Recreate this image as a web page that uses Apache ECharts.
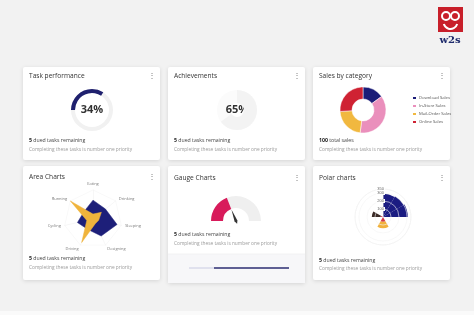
<!DOCTYPE html>
<html>
<head>
<meta charset="utf-8">
<script src="https://cdn.jsdelivr.net/npm/echarts@6/dist/echarts.min.js"></script>
<style>
  html, body { margin: 0; padding: 0; background: #f2f2f2; }
  #dash { width: 474px; height: 315px; }
</style>
</head>
<body>
<div id="dash"></div>
<script>
// ---- data ----
var taskPerformance = [34];
var achievements = [65];
var salesNames = ['Download Sales', 'In-Store Sales', 'Mail-Order Sales', 'Online Sales'];
var salesValues = [15, 37, 22, 26];
var salesColors = ['#1b1c78', '#ea8fbc', '#f1b83f', '#cf2233'];

var radarNames = ['Eating', 'Running', 'Cycling', 'Driving', 'Designing', 'Sleeping', 'Drinking'];
var radarNavy = [65, 40, 55, 40, 65, 85, 55];
var radarYellow = [17, 100, 22, 90, 18, 20, 37];

var gaugeValue = [38];
var progressDone = [25];

var polarCats = ['1', '2', '3', '4', '5', '6', '7', '8', '9', '10', '11', '12'];
var polarNavy = [290, 300, 310, 0, 0, 0, 0, 0, 0, 0, 0, 0];
var polarRed = [0, 0, 0, 0, 0, 60, 60, 0, 0, 30, 0, 0];
var polarYellow = [0, 0, 0, 0, 0, 80, 80, 0, 0, 0, 0, 0];
var polarDark = [0, 0, 0, 0, 0, 0, 0, 0, 0, 110, 0, 0];

// ---- cards ----
var cards = [
    { x: 23, y: 67, w: 137, h: 93, title: 'Task performance', lead: '5', rest: ' dued tasks remaining', ty: 76, l1: 141, l2: 150 },
    { x: 168, y: 67, w: 137, h: 93, title: 'Achievements', lead: '5', rest: ' dued tasks remaining', ty: 76, l1: 141, l2: 150 },
    { x: 313, y: 67, w: 137, h: 93, title: 'Sales by category', lead: '100', rest: ' total sales', ty: 76, l1: 141, l2: 150 },
    { x: 23, y: 166, w: 137, h: 114, title: 'Area Charts', lead: '5', rest: ' dued tasks remaining', ty: 177, l1: 259, l2: 268 },
    { x: 168, y: 166, w: 137, h: 117, title: 'Gauge Charts', lead: '5', rest: ' dued tasks remaining', ty: 178, l1: 235, l2: 244 },
    { x: 313, y: 166, w: 137, h: 114, title: 'Polar charts', lead: '5', rest: ' dued tasks remaining', ty: 178, l1: 261, l2: 269 }
];
var FONT = '"Open Sans", sans-serif';

var graphics = [];
graphics.push({ type: 'rect', shape: { x: 0, y: 311, width: 474, height: 4 }, style: { fill: '#fafafa' }, z: -10 });
cards.forEach(function (c) {
    graphics.push({
        type: 'rect', shape: { x: c.x, y: c.y, width: c.w, height: c.h, r: 2 },
        style: { fill: '#fff', shadowBlur: 4, shadowColor: 'rgba(0,0,0,0.12)', shadowOffsetY: 1 }, z: -5
    });
    graphics.push({ type: 'text', x: c.x + 6, y: c.ty, style: { text: c.title, fontSize: 6.6, fill: '#333', fontFamily: FONT, verticalAlign: 'middle' } });
    graphics.push({ type: 'text', x: c.x + 125, y: c.ty, style: { text: '⋮', fontSize: 8, fill: '#777', fontFamily: FONT, verticalAlign: 'middle' } });
    graphics.push({
        type: 'text', x: c.x + 6, y: c.l1,
        style: {
            text: '{b|' + c.lead + '}' + c.rest, fontSize: 5.2, fill: '#444', fontFamily: FONT, verticalAlign: 'middle',
            rich: { b: { fontWeight: 'bold', fontSize: 5.2, fill: '#222', fontFamily: FONT } }
        }
    });
    graphics.push({ type: 'text', x: c.x + 6, y: c.l2, style: { text: 'Completing these tasks is number one priority', fontSize: 4.8, fill: '#9a9a9a', fontFamily: FONT, verticalAlign: 'middle' } });
});
// footer strip of gauge card
graphics.push({ type: 'rect', shape: { x: 168, y: 254, width: 137, height: 29 }, style: { fill: '#f7f7f9' }, z: -4 });
graphics.push({ type: 'line', shape: { x1: 168, y1: 254, x2: 305, y2: 254 }, style: { stroke: '#ececec', lineWidth: 0.6 }, z: -4 });
// logo
graphics.push({ type: 'rect', shape: { x: 438, y: 7, width: 25, height: 25 }, style: { fill: '#c81f2a' }, z: 5 });
graphics.push({ type: 'circle', shape: { cx: 446, cy: 16, r: 4 }, style: { fill: 'none', stroke: '#fff', lineWidth: 2 }, z: 6 });
graphics.push({ type: 'circle', shape: { cx: 455, cy: 16, r: 4 }, style: { fill: 'none', stroke: '#fff', lineWidth: 2 }, z: 6 });
graphics.push({ type: 'arc', shape: { cx: 450.5, cy: 22, r: 7, startAngle: 0.3, endAngle: Math.PI - 0.3 }, style: { fill: 'none', stroke: '#fff', lineWidth: 2 }, z: 6 });
graphics.push({ type: 'text', x: 450, y: 40, style: { text: 'w2s', fontSize: 10, fontWeight: 'bold', fill: '#1d2a6b', fontFamily: '"DejaVu Serif", serif', align: 'center', verticalAlign: 'middle' }, z: 6 });

var hiddenGauge = {
    axisTick: { show: false }, splitLine: { show: false }, axisLabel: { show: false },
    anchor: { show: false }, title: { show: false }
};

var option = {
    animation: false,
    legend: {
        orient: 'vertical', left: 406, top: 90, itemWidth: 5, itemHeight: 4, itemGap: 2,
        icon: 'rect', data: salesNames,
        textStyle: { fontSize: 4.2, color: '#555', fontFamily: FONT, padding: [0, 0, 0, -3] }
    },
    radar: {
        center: [93, 219], radius: 29, startAngle: 90,
        indicator: radarNames.map(function (n) { return { name: n, max: 100 }; }),
        axisName: { fontSize: 4, color: '#777', fontFamily: FONT },
        nameGap: 4, splitNumber: 2,
        axisLine: { lineStyle: { color: '#eeeeee', width: 0.5 } },
        splitLine: { lineStyle: { color: '#f3f3f3', width: 0.5 } },
        splitArea: { show: false }
    },
    polar: { center: [383, 217], radius: 28 },
    angleAxis: {
        type: 'category', data: polarCats, startAngle: 90,
        axisLine: { lineStyle: { color: '#f0f0f0', width: 0.6 } },
        axisTick: { show: false }, axisLabel: { show: false }, splitLine: { show: false }
    },
    radiusAxis: {
        min: 0, max: 350, interval: 100, z: 10,
        axisLine: { lineStyle: { color: '#dddddd', width: 0.5 } },
        axisTick: { show: false },
        axisLabel: { fontSize: 4, color: '#666', backgroundColor: '#fff', padding: [0, 1], margin: -2, showMinLabel: false },
        splitLine: { show: true, lineStyle: { color: '#f4f4f4', width: 0.6 } }
    },
    grid: { left: 189, top: 263, width: 100, height: 10 },
    xAxis: { type: 'value', min: 0, max: 100, show: false },
    yAxis: { type: 'value', min: -1, max: 1, show: false },
    graphic: graphics,
    series: [
        Object.assign({
            type: 'gauge', center: [92, 110], radius: 21, startAngle: 180, endAngle: -180, min: 0, max: 100,
            pointer: { show: false },
            progress: { show: true, width: 4, itemStyle: { color: '#1f206e' } },
            axisLine: { lineStyle: { width: 4, color: [[1, '#f1f1f1']] } },
            detail: { offsetCenter: [0, 0], fontSize: 11, color: '#333', fontFamily: FONT, formatter: '{value}%' },
            data: taskPerformance
        }, hiddenGauge),
        Object.assign({
            type: 'gauge', center: [237, 110], radius: 20, startAngle: 90, endAngle: -270, min: 0, max: 100,
            pointer: { show: false },
            progress: { show: true, width: 13, itemStyle: { color: '#f3f3f3' } },
            axisLine: { lineStyle: { width: 13, color: [[1, '#fbfbfb']] } },
            detail: { offsetCenter: [0, 0], fontSize: 11, color: '#333', fontFamily: FONT, formatter: '{value}%' },
            data: achievements
        }, hiddenGauge),
        {
            type: 'pie', center: [363, 110], radius: [11, 23], startAngle: 90,
            label: { show: false }, labelLine: { show: false },
            itemStyle: { borderColor: '#fff', borderWidth: 0.5 },
            data: salesNames.map(function (n, i) { return { name: n, value: salesValues[i], itemStyle: { color: salesColors[i] } }; })
        },
        {
            type: 'radar', symbol: 'none',
            data: [
                { value: radarNavy, itemStyle: { color: '#1d1f79' }, lineStyle: { color: '#1d1f79', width: 0.5 }, areaStyle: { color: '#1d1f79', opacity: 1 } },
                { value: radarYellow, itemStyle: { color: '#f0b43c' }, lineStyle: { color: '#f0b43c', width: 0.5 }, areaStyle: { color: '#f0b43c', opacity: 1 } }
            ]
        },
        Object.assign({
            type: 'gauge', center: [236, 221], radius: 25, startAngle: 180, endAngle: 0, min: 0, max: 100,
            progress: { show: true, width: 12, itemStyle: { color: '#d81b5b' } },
            axisLine: { lineStyle: { width: 12, color: [[1, '#efefef']] } },
            pointer: { show: true, length: '50%', width: 1.5, itemStyle: { color: '#333' } },
            detail: { show: false },
            data: gaugeValue
        }, hiddenGauge),
        {
            type: 'line', symbol: 'none', silent: true,
            lineStyle: { color: '#c9cbe2', width: 1 },
            data: [[0, 0], [progressDone[0], 0]]
        },
        {
            type: 'line', symbol: 'none', silent: true,
            lineStyle: { color: '#2b2d70', width: 1.6 },
            data: [[progressDone[0], 0], [100, 0]]
        },
        { type: 'bar', coordinateSystem: 'polar', stack: 'p', barCategoryGap: '0%', data: polarRed, itemStyle: { color: '#d43a4a' } },
        { type: 'bar', coordinateSystem: 'polar', stack: 'p', barCategoryGap: '0%', data: polarYellow, itemStyle: { color: '#f1b23d' } },
        { type: 'bar', coordinateSystem: 'polar', stack: 'p', barCategoryGap: '0%', data: polarDark, itemStyle: { color: '#3b2c28' } },
        { type: 'bar', coordinateSystem: 'polar', stack: 'p', barCategoryGap: '0%', data: polarNavy, itemStyle: { color: '#1b1c82' } }
    ]
};

var chart = echarts.init(document.getElementById('dash'));
chart.setOption(option);
</script>
</body>
</html>
